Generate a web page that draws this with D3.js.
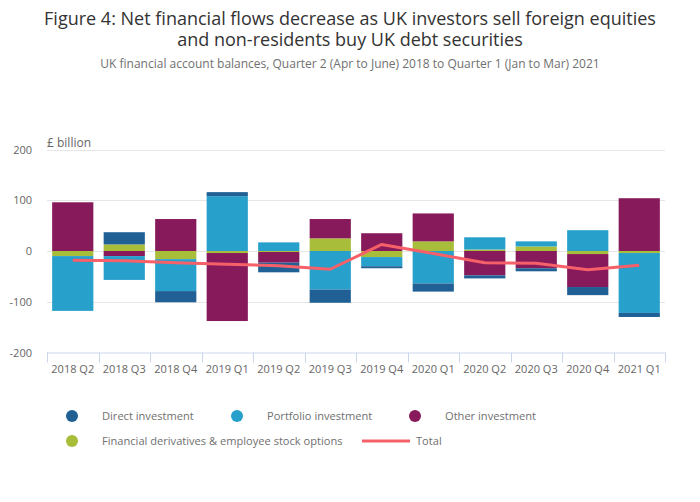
<!DOCTYPE html>
<html>
<head>
<meta charset="utf-8">
<script src="https://cdn.jsdelivr.net/npm/d3@7"></script>
<style>
  body { margin: 0; background: #fff; font-family: "Open Sans", sans-serif; }
  svg { display: block; }
</style>
</head>
<body>
<div id="chart"></div>
<script>
const categories = ['2018 Q2', '2018 Q3', '2018 Q4', '2019 Q1', '2019 Q2', '2019 Q3',
    '2019 Q4', '2020 Q1', '2020 Q2', '2020 Q3', '2020 Q4', '2021 Q1'];
const directInvestment = [0, 24, -22, 8, -19, -26, -4, -16, -6, -6, -16, -8];
const portfolioInvestment = [-108, -47, -63, 108, 17, -76, -18, -64, 24, 10, 41, -118];
const otherInvestment = [96, -10, 63, -134, -21, 38, 35, 55, -48, -34, -65, 104];
const derivatives = [-10, 13, -16, -4, -2, 25, -12, 19, 3, 9, -6, -4];
const total = [-18, -19, -23, -26, -29, -36, 13, -5, -23, -24, -37, -28];
const yTicks = [-200, -100, 0, 100, 200];

const series = [
    { key: 'direct', name: 'Direct investment', values: directInvestment, color: '#206095' },
    { key: 'portfolio', name: 'Portfolio investment', values: portfolioInvestment, color: '#27a0cc' },
    { key: 'other', name: 'Other investment', values: otherInvestment, color: '#871a5b' },
    { key: 'deriv', name: 'Financial derivatives & employee stock options', values: derivatives, color: '#a8bd3a' }
];
const totalColor = '#f66068';

const width = 700, height = 502;
const margin = { top: 149.5, right: 35, bottom: 150, left: 47 };

const svg = d3.select('#chart').append('svg')
    .attr('width', width)
    .attr('height', height);

// title + subtitle
const title = svg.append('text')
    .attr('text-anchor', 'middle')
    .attr('fill', '#333333')
    .style('font-size', '18px');
title.append('tspan').attr('x', width / 2).attr('y', 25)
    .text('Figure 4: Net financial flows decrease as UK investors sell foreign equities');
title.append('tspan').attr('x', width / 2).attr('y', 45.5)
    .text('and non-residents buy UK debt securities');

svg.append('text')
    .attr('x', width / 2)
    .attr('y', 68)
    .attr('text-anchor', 'middle')
    .attr('fill', '#707070')
    .style('font-size', '12px')
    .text('UK financial account balances, Quarter 2 (Apr to June) 2018 to Quarter 1 (Jan to Mar) 2021');

const x = d3.scaleBand()
    .domain(categories)
    .range([margin.left, width - margin.right])
    .paddingInner(0.2)
    .paddingOuter(0.1);

const y = d3.scaleLinear()
    .domain([-200, 200])
    .range([352.5, margin.top]);

// gridlines
svg.append('g')
    .selectAll('line')
    .data(yTicks.filter(d => d !== -200))
    .join('line')
    .attr('x1', margin.left)
    .attr('x2', width - margin.right)
    .attr('y1', d => Math.round(y(d)) + 0.5)
    .attr('y2', d => Math.round(y(d)) + 0.5)
    .attr('stroke', '#e6e6e6');

// y axis labels
svg.append('g')
    .selectAll('text')
    .data(yTicks)
    .join('text')
    .attr('x', 32)
    .attr('y', d => y(d) + 4)
    .attr('text-anchor', 'end')
    .attr('fill', '#666666')
    .style('font-size', '11px')
    .text(d => d);

svg.append('text')
    .attr('x', margin.left)
    .attr('y', 147)
    .attr('fill', '#666666')
    .style('font-size', '12px')
    .text('£ billion');

// stacked bars, derivatives sit nearest zero
const rows = categories.map((c, i) => {
    const r = { cat: c };
    series.forEach(s => { r[s.key] = s.values[i]; });
    return r;
});
const stackKeys = series.map(s => s.key).reverse();
const stacked = d3.stack()
    .keys(stackKeys)
    .offset(d3.stackOffsetDiverging)(rows);
const colorOf = Object.fromEntries(series.map(s => [s.key, s.color]));

svg.append('g')
    .selectAll('g')
    .data(stacked)
    .join('g')
    .attr('fill', d => colorOf[d.key])
    .selectAll('rect')
    .data(d => d)
    .join('rect')
    .attr('x', d => x(d.data.cat))
    .attr('width', x.bandwidth())
    .attr('y', d => y(Math.max(d[0], d[1])))
    .attr('height', d => Math.abs(y(d[0]) - y(d[1])));

// x axis
const axisY = y(-200);
const axisG = svg.append('g');
axisG.append('line')
    .attr('x1', margin.left)
    .attr('x2', width - margin.right)
    .attr('y1', axisY + 0.5)
    .attr('y2', axisY + 0.5)
    .attr('stroke', '#ccd6eb');
const bounds = d3.range(categories.length + 1).map(i => margin.left + i * (width - margin.left - margin.right) / categories.length);
axisG.selectAll('line.tick')
    .data(bounds)
    .join('line')
    .attr('class', 'tick')
    .attr('x1', d => Math.round(d) + 0.5)
    .attr('x2', d => Math.round(d) + 0.5)
    .attr('y1', axisY)
    .attr('y2', axisY + 10)
    .attr('stroke', '#ccd6eb');
axisG.selectAll('text')
    .data(categories)
    .join('text')
    .attr('x', d => x(d) + x.bandwidth() / 2)
    .attr('y', axisY + 20)
    .attr('text-anchor', 'middle')
    .attr('fill', '#666666')
    .style('font-size', '11px')
    .text(d => d);

// total line
const line = d3.line()
    .x((d, i) => x(categories[i]) + x.bandwidth() / 2)
    .y(d => y(d));
svg.append('path')
    .datum(total)
    .attr('fill', 'none')
    .attr('stroke', totalColor)
    .attr('stroke-width', 3)
    .attr('stroke-linejoin', 'round')
    .attr('d', line);

// legend
const legendItems = [
    { name: series[0].name, color: series[0].color, cx: 72, tx: 102, y: 416 },
    { name: series[1].name, color: series[1].color, cx: 237, tx: 267, y: 416 },
    { name: series[2].name, color: series[2].color, cx: 415, tx: 445, y: 416 },
    { name: series[3].name, color: series[3].color, cx: 72, tx: 102, y: 441 },
    { name: 'Total', color: totalColor, cx: 386, tx: 416, y: 441, isLine: true }
];
const lg = svg.append('g');
legendItems.forEach(it => {
    if (it.isLine) {
        lg.append('line')
            .attr('x1', it.cx - 24).attr('x2', it.cx + 24)
            .attr('y1', it.y).attr('y2', it.y)
            .attr('stroke', it.color).attr('stroke-width', 3);
    } else {
        lg.append('circle')
            .attr('cx', it.cx).attr('cy', it.y).attr('r', 6)
            .attr('fill', it.color);
    }
    lg.append('text')
        .attr('x', it.tx)
        .attr('y', it.y + 4)
        .attr('fill', '#707070')
        .style('font-size', '11.1px')
        .text(it.name);
});
</script>
</body>
</html>
